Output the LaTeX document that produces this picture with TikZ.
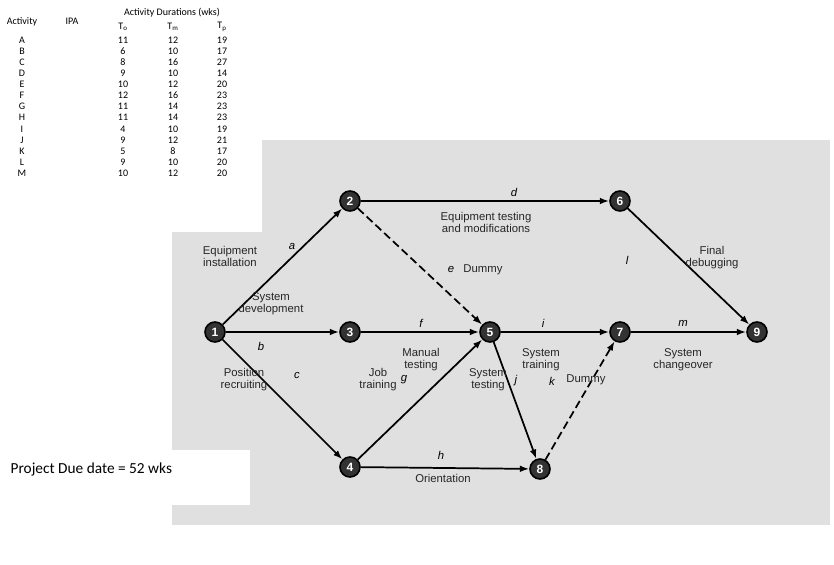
\documentclass[tikz,border=0pt]{standalone}
\usepackage{fontspec}
\setmainfont{Liberation Sans}
\newfontfamily\calfnt{Carlito}
\usetikzlibrary{arrows.meta}
\begin{document}
\begin{tikzpicture}[x=0.75pt,y=-0.75pt,
  ev/.style={circle,fill=black!80,draw=black,line width=1.2pt,minimum size=15pt,inner sep=0pt,text=white,font=\bfseries\small},
  act/.style={line width=1.3pt,-{Latex[length=7pt,width=5pt]}},
  dum/.style={act,dashed,dash pattern=on 6pt off 3pt},
  lb/.style={font=\fontsize{8.5}{9}\selectfont,align=center,text=black!85},
  lt/.style={font=\itshape\fontsize{8.5}{9}\selectfont},
  tb/.style={font=\calfnt\fontsize{7.5}{8}\selectfont}]
\useasboundingbox (0,0) rectangle (834,564);
\fill[white] (0,0) rectangle (834,564);
\fill[black!12] (172,140) rectangle (830,525);
\fill[white] (0,0) rectangle (262,232);
\fill[white] (0,0) rectangle (834,140);
\fill[white] (0,450) rectangle (250,505);
% table
\node[tb] (hA) at (22,22) {Activity};
\node[tb] (hI) at (72,21) {IPA};
\node[tb] (hD) at (172,13) {Activity Durations (wks)};
\node[tb] (ho) at (123,27) {T\textsubscript{o}};
\node[tb] (hm) at (173,27) {T\textsubscript{m}};
\node[tb] (hp) at (222,27) {T\textsubscript{p}};
\foreach \a/\o/\m/\p [count=\i] in {A/11/12/19,B/6/10/17,C/8/16/27,D/9/10/14,E/10/12/20,F/12/16/23,G/11/14/23,H/11/14/23,I/4/10/19,J/9/12/21,K/5/8/17,L/9/10/20,M/10/12/20}{
  \node[tb] (ra\i) at (22,{28.9+11.1*\i}) {\a};
  \node[tb] (ro\i) at (123,{28.9+11.1*\i}) {\o};
  \node[tb] (rm\i) at (173,{28.9+11.1*\i}) {\m};
  \node[tb] (rp\i) at (222,{28.9+11.1*\i}) {\p};
}
\node[font=\calfnt\fontsize{11.5}{12}\selectfont,anchor=west] (due) at (6,469) {Project Due date = 52 wks};
% nodes
\node[ev] (n1) at (215,332) {1};
\node[ev] (n2) at (350,201) {2};
\node[ev] (n3) at (350,332) {3};
\node[ev] (n4) at (350,467) {4};
\node[ev] (n5) at (490,332) {5};
\node[ev] (n6) at (620,201) {6};
\node[ev] (n7) at (620,332) {7};
\node[ev] (n8) at (540,469) {8};
\node[ev] (n9) at (757,332) {9};
\draw[act] (n1) -- (n2);
\draw[act] (n1) -- (n3);
\draw[act] (n1) -- (n4);
\draw[act] (n2) -- (n6);
\draw[dum] (n2) -- (n5);
\draw[act] (n3) -- (n5);
\draw[act] (n4) -- (n5);
\draw[act] (n4) -- (n8);
\draw[act] (n5) -- (n7);
\draw[act] (n5) -- (n8);
\draw[dum] (n8) -- (n7);
\draw[act] (n6) -- (n9);
\draw[act] (n7) -- (n9);
% labels
\node[lt] (la) at (292,247) {a};
\node[lb] (ta) at (230,256) {Equipment\\installation};
\node[lb] (tb1) at (271,304) {System\\development};
\node[lt] (lb2) at (261,346) {b};
\node[lt] (lf) at (421,323) {f};
\node[lb] (tf) at (421,360) {Manual\\testing};
\node[lt] (li) at (543,323) {i};
\node[lb] (ti) at (541,360) {System\\training};
\node[lt] (lm) at (683,323) {m};
\node[lb] (tm) at (683,360) {System\\changeover};
\node[lt] (ld) at (514,192) {d};
\node[lb] (td) at (486,222) {Equipment testing\\and modifications};
\node[lt] (le) at (451,270) {e};
\node[lb] (te) at (483,270) {Dummy};
\node[lt] (ll) at (627,260) {l};
\node[lb] (tl) at (712,258) {Final\\debugging};
\node[lt] (lc) at (297,375) {c};
\node[lb] (tc) at (244,380) {Position\\recruiting};
\node[lb] (tg) at (378,380) {Job\\training};
\node[lt] (lg) at (404,380) {g};
\node[lb] (tj) at (488,380) {System\\testing};
\node[lt] (lj) at (516,381) {j};
\node[lt] (lk) at (552,381) {k};
\node[lb] (tk) at (586,380) {Dummy};
\node[lt] (lh) at (441,455) {h};
\node[lb] (th) at (443,478) {Orientation};
\end{tikzpicture}
\end{document}
